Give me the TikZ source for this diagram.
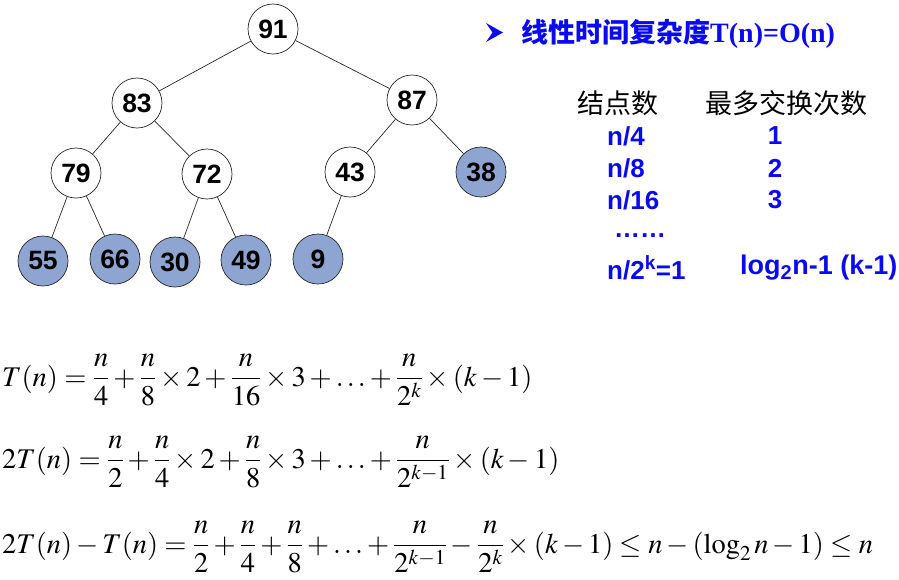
\documentclass[tikz,border=0pt]{standalone}
\usepackage{amsmath}
\usepackage{mathptmx}
\usepackage[no-math]{fontspec}
\setmainfont{Liberation Serif}
\newfontfamily\arialf{Liberation Sans}
\newfontfamily\cjkf{Noto Sans CJK SC}
\definecolor{leafblue}{HTML}{8EA5D1}
\definecolor{txtblue}{HTML}{0A0AF0}
\tikzset{
  heapnode/.style={circle,draw=black!85,line width=0.7pt,fill=white,minimum size=50pt,inner sep=0pt,
    font=\arialf\bfseries\fontsize{26.5}{26}\selectfont},
  leafnode/.style={heapnode,fill=leafblue},
  edge/.style={draw=black!85,line width=0.7pt},
  bluetxt/.style={text=txtblue,font=\arialf\bfseries\fontsize{26}{28}\selectfont,inner sep=0pt},
  headtxt/.style={text=black,font=\cjkf\fontsize{27}{28}\selectfont,inner sep=0pt},
  eqtxt/.style={font=\fontsize{28.5}{34}\selectfont,inner sep=0pt,anchor=base west}
}
\begin{document}
\begin{tikzpicture}[x=1pt,y=-1pt]
\useasboundingbox (0,0) rectangle (899,579);
% tree
\node[heapnode] (n91) at (273,29) {91};
\node[heapnode] (n83) at (137,103) {83};
\node[heapnode] (n87) at (412,100) {87};
\node[heapnode] (n79) at (76,173) {79};
\node[heapnode] (n72) at (207,174) {72};
\node[heapnode] (n43) at (350,172) {43};
\node[leafnode] (n38) at (481,172) {38};
\node[leafnode] (n55) at (43,261) {55};
\node[leafnode] (n66) at (115,259) {66};
\node[leafnode] (n30) at (175,262) {30};
\node[leafnode] (n49) at (246,260) {49};
\node[leafnode] (n9) at (318,259) {9};
\path[edge] (n91) -- (n83);
\path[edge] (n91) -- (n87);
\path[edge] (n83) -- (n79);
\path[edge] (n83) -- (n72);
\path[edge] (n87) -- (n43);
\path[edge] (n87) -- (n38);
\path[edge] (n79) -- (n55);
\path[edge] (n79) -- (n66);
\path[edge] (n72) -- (n30);
\path[edge] (n72) -- (n49);
\path[edge] (n43) -- (n9);
% title bullet
\fill[txtblue] (486,23) -- (503,32.5) -- (486,42) -- (492.5,32.5) -- cycle;
\node[anchor=west,inner sep=0pt,text=txtblue] (title) at (521,34)
  {{\cjkf\bfseries\fontsize{27}{28}\selectfont 线性时间复杂度}{\bfseries\fontsize{28}{28}\selectfont T(n)=O(n)}};
% table
\node[headtxt,anchor=west] (h1) at (577,103) {结点数};
\node[headtxt,anchor=west] (h2) at (705,103) {最多交换次数};
\node[bluetxt,anchor=west] (r1) at (607,136) {n/4};
\node[bluetxt,anchor=west] (r2) at (607,168) {n/8};
\node[bluetxt,anchor=west] (r3) at (607,200) {n/16};
\node[bluetxt,anchor=west] (r4) at (614,236) {……};
\node[bluetxt,anchor=west] (r5) at (607,268) {n/2\textsuperscript{k}=1};
\node[bluetxt] (c1) at (775,136) {1};
\node[bluetxt] (c2) at (775,168) {2};
\node[bluetxt] (c3) at (775,200) {3};
\node[bluetxt,anchor=west] (c5) at (740,268) {\fontsize{27}{28}\selectfont log\textsubscript{2}n-1 (k-1)};
% equations
\node[eqtxt] (e1) at (2,386) {$T(n)=\dfrac{n}{4}+\dfrac{n}{8}\times 2+\dfrac{n}{16}\times 3+\ldots+\dfrac{n}{2^k}\times(k-1)$};
\node[eqtxt] (e2) at (2,468) {$2T(n)=\dfrac{n}{2}+\dfrac{n}{4}\times 2+\dfrac{n}{8}\times 3+\ldots+\dfrac{n}{2^{k-1}}\times(k-1)$};
\node[eqtxt] (e3) at (2,553) {$2T(n)-T(n)=\dfrac{n}{2}+\dfrac{n}{4}+\dfrac{n}{8}+\ldots+\dfrac{n}{2^{k-1}}-\dfrac{n}{2^k}\times(k-1)\le n-(\log_2 n-1)\le n$};
\end{tikzpicture}
\end{document}
